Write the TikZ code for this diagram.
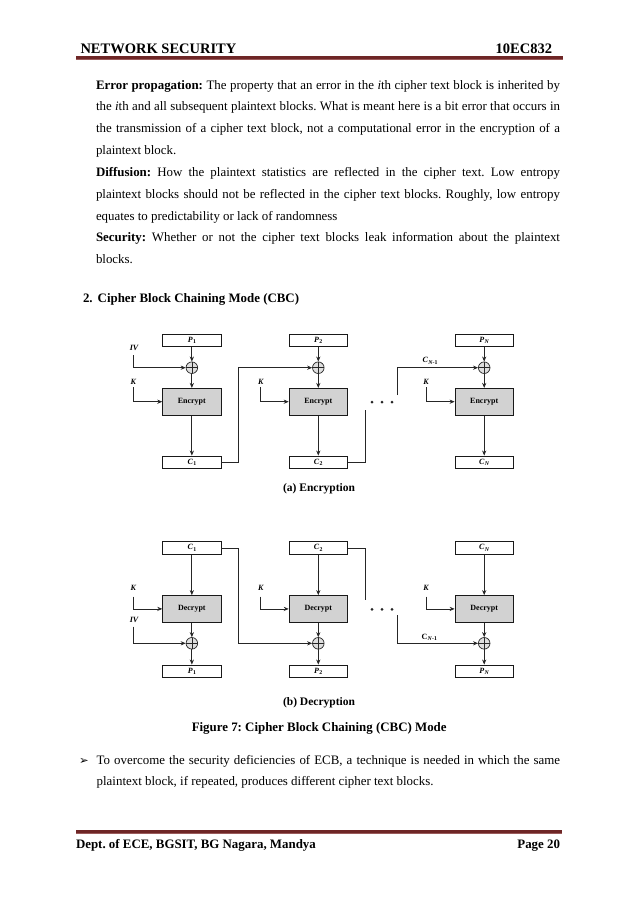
\documentclass[tikz,border=0pt]{standalone}
\usepackage{fontspec}
\setmainfont{Liberation Serif}
\newfontfamily\symfont{DejaVu Sans}
\usetikzlibrary{arrows.meta}
\frenchspacing
\newcommand\bodyfont{\fontsize{12.9}{15}\selectfont}
\newcommand\diagfont{\fontsize{8}{9}\selectfont\bfseries}
\newcommand\vsub[2]{\textit{#1}\kern0.3pt\raisebox{-1.4pt}{\fontsize{5.8}{6}\selectfont #2}}
\definecolor{maroon}{HTML}{6E2626}
\definecolor{maroonlt}{HTML}{9A5A5A}
\definecolor{boxgray}{HTML}{D2D2D2}
\begin{document}
\frenchspacing
\begin{tikzpicture}[x=1pt,y=-1pt,
  txt/.style={inner sep=0pt, outer sep=0pt, font=\bodyfont},
  box/.style={draw=black!90, line width=0.9pt, minimum width=58.3pt, minimum height=12.4pt, inner sep=0pt, font=\diagfont},
  cbox/.style={box, fill=boxgray, minimum height=26.7pt},
  xor/.style={circle, draw=black!85, fill=boxgray!70, line width=0.7pt, minimum size=11.6pt, inner sep=0pt,
    path picture={\draw[line width=0.6pt] (path picture bounding box.north) -- (path picture bounding box.south)
      (path picture bounding box.west) -- (path picture bounding box.east);}},
  conn/.style={draw=black!85, line width=0.75pt, -{Stealth[length=5pt,width=4.2pt]}},
  plain/.style={draw=black!85, line width=0.75pt},
  lab/.style={inner sep=0pt, font=\diagfont},
  dotmark/.style={fill=black!85}
]
\useasboundingbox (0,0) rectangle (638,903);
\fill[white] (0,0) rectangle (638,903);

% header
\node[txt, anchor=base west, font=\fontsize{14.5}{16}\selectfont\bfseries] (hl) at (80.5,53) {NETWORK SECURITY};
\node[txt, anchor=base east, font=\fontsize{14.5}{16}\selectfont\bfseries] (hr) at (552,53) {10EC832};
\draw[maroon, line width=2.2pt] (76,57.5) -- (563,57.5);
\draw[maroonlt, line width=0.9pt] (76,59.5) -- (563,59.5);

% body text
\node[txt, anchor=base west] (l1) at (96,89) {\makebox[464pt][s]{\textbf{Error propagation:} The property that an error in the \textit{i}th cipher text block is inherited by}};
\node[txt, anchor=base west] (l2) at (96,110.85) {\makebox[464pt][s]{the \textit{i}th and all subsequent plaintext blocks. What is meant here is a bit error that occurs in}};
\node[txt, anchor=base west] (l3) at (96,132.7) {\makebox[464pt][s]{the transmission of a cipher text block, not a computational error in the encryption of a}};
\node[txt, anchor=base west] (l4) at (96,154.55) {plaintext block.};
\node[txt, anchor=base west] (l5) at (96,176.4) {\makebox[464pt][s]{\textbf{Diffusion:} How the plaintext statistics are reflected in the cipher text. Low entropy}};
\node[txt, anchor=base west] (l6) at (96,198.25) {\makebox[464pt][s]{plaintext blocks should not be reflected in the cipher text blocks. Roughly, low entropy}};
\node[txt, anchor=base west] (l7) at (96,220.1) {equates to predictability or lack of randomness};
\node[txt, anchor=base west] (l8) at (96,241.95) {\makebox[464pt][s]{\textbf{Security:} Whether or not the cipher text blocks leak information about the plaintext}};
\node[txt, anchor=base west] (l9) at (96,263.8) {blocks.};
\node[txt, anchor=base west, font=\bodyfont\bfseries] (s2n) at (83,302) {2.};
\node[txt, anchor=base west, font=\bodyfont\bfseries] (s2t) at (97.7,302) {Cipher Block Chaining Mode (CBC)};

% ---------- encryption ----------
\node[box] (p1) at (191.85,340.5) {\vsub{P}{1}};
\node[xor] (x1) at (191.85,367.7) {};
\node[cbox] (e1) at (191.85,401.7) {Encrypt};
\node[box] (c1) at (191.85,462.2) {\vsub{C}{1}};

\node[box] (p2) at (318.3,340.5) {\vsub{P}{2}};
\node[xor] (x2) at (318.3,367.7) {};
\node[cbox] (e2) at (318.3,401.7) {Encrypt};
\node[box] (c2) at (318.3,462.2) {\vsub{C}{2}};

\node[box] (pN) at (484.2,340.5) {\vsub{P}{\textit{N}}};
\node[xor] (xN) at (484.2,367.7) {};
\node[cbox] (eN) at (484.2,401.7) {Encrypt};
\node[box] (cN) at (484.2,462.2) {\vsub{C}{\textit{N}}};

\foreach \i in {1,2,N}{
  \draw[conn] (p\i) -- (x\i);
  \draw[conn] (x\i) -- (e\i);
  \draw[conn] (e\i) -- (c\i);
}
\node[lab, font=\diagfont\itshape] (ivE) at (134,348.3) {IV};
\coordinate (ivEs) at (133.3,355);
\draw[conn] (ivEs) |- (x1);
\node[lab, font=\diagfont\itshape] (kE1) at (133.3,381.7) {K};
\coordinate (kE1s) at (133.3,387.3);
\draw[conn] (kE1s) |- (e1);
\node[lab, font=\diagfont\itshape] (kE2) at (260.7,381.7) {K};
\coordinate (kE2s) at (260.7,387.3);
\draw[conn] (kE2s) |- (e2);
\node[lab, font=\diagfont\itshape] (kEN) at (426,381.7) {K};
\coordinate (kENs) at (426,387.3);
\draw[conn] (kENs) |- (eN);

\coordinate (jE1) at (238.3,462.2);
\draw[conn] (c1.east) -- (jE1) |- (x2);
\coordinate (c2end) at (365,410);
\draw[plain] (c2.east) -| (c2end);
\fill[dotmark] (372,402) circle (1.5) (382,402) circle (1.5) (392,402) circle (1.5);
\coordinate (cn1E) at (397.7,395);
\draw[conn] (cn1E) |- (xN);
\node[lab] (cn1El) at (430,361) {\vsub{C}{\textit{N}-1}};

\node[txt, font=\fontsize{11.5}{13}\selectfont\bfseries] (capA) at (319,488.3) {(a) Encryption};

% ---------- decryption ----------
\node[box] (dc1) at (191.85,547.9) {\vsub{C}{1}};
\node[cbox] (d1) at (191.85,608.9) {Decrypt};
\node[xor] (dx1) at (191.85,643.3) {};
\node[box] (dp1) at (191.85,671.2) {\vsub{P}{1}};

\node[box] (dc2) at (318.3,547.9) {\vsub{C}{2}};
\node[cbox] (d2) at (318.3,608.9) {Decrypt};
\node[xor] (dx2) at (318.3,643.3) {};
\node[box] (dp2) at (318.3,671.2) {\vsub{P}{2}};

\node[box] (dcN) at (484.2,547.9) {\vsub{C}{\textit{N}}};
\node[cbox] (dN) at (484.2,608.9) {Decrypt};
\node[xor] (dxN) at (484.2,643.3) {};
\node[box] (dpN) at (484.2,671.2) {\vsub{P}{\textit{N}}};

\foreach \i in {1,2,N}{
  \draw[conn] (dc\i) -- (d\i);
  \draw[conn] (d\i) -- (dx\i);
  \draw[conn] (dx\i) -- (dp\i);
}
\node[lab, font=\diagfont\itshape] (kD1) at (133.3,588.3) {K};
\coordinate (kD1s) at (133.3,596.7);
\draw[conn] (kD1s) |- (d1);
\node[lab, font=\diagfont\itshape] (kD2) at (260.7,588.3) {K};
\coordinate (kD2s) at (260.7,596.7);
\draw[conn] (kD2s) |- (d2);
\node[lab, font=\diagfont\itshape] (kDN) at (426,588.3) {K};
\coordinate (kDNs) at (426,596.7);
\draw[conn] (kDNs) |- (dN);
\node[lab, font=\diagfont\itshape] (ivD) at (134,620) {IV};
\coordinate (ivDs) at (133.3,626.7);
\draw[conn] (ivDs) |- (dx1);

\coordinate (jD1) at (238.3,547.9);
\draw[conn] (dc1.east) -- (jD1) |- (dx2);
\coordinate (dc2end) at (365,600);
\draw[plain] (dc2.east) -| (dc2end);
\fill[dotmark] (372,609.3) circle (1.5) (382,609.3) circle (1.5) (392,609.3) circle (1.5);
\coordinate (cn1D) at (397.7,615);
\draw[conn] (cn1D) |- (dxN);
\node[lab] (cn1Dl) at (429.3,637.5) {C\kern0.3pt\raisebox{-1.4pt}{\fontsize{5.8}{6}\selectfont\textit{N}-1}};

\node[txt, font=\fontsize{11.5}{13}\selectfont\bfseries] (capB) at (319,703) {(b) Decryption};

% caption and bullet
\node[txt, anchor=base, font=\bodyfont\bfseries] (fig) at (319.2,731) {Figure 7: Cipher Block Chaining (CBC) Mode};
\node[txt, anchor=base west, font=\symfont\fontsize{11.5}{12}\selectfont] (bul) at (79,764) {➢};
\node[txt, anchor=base west] (b1) at (96.7,764) {\makebox[463.3pt][s]{To overcome the security deficiencies of ECB, a technique is needed in which the same}};
\node[txt, anchor=base west] (b2) at (96.7,785.5) {plaintext block, if repeated, produces different cipher text blocks.};

% footer
\draw[maroon, line width=2.2pt] (76,831.5) -- (562,831.5);
\draw[maroonlt, line width=0.9pt] (76,833.6) -- (562,833.6);
\node[txt, anchor=base west, font=\bodyfont\bfseries] (fl) at (76,848) {Dept. of ECE, BGSIT, BG Nagara, Mandya};
\node[txt, anchor=base east, font=\bodyfont\bfseries] (fr) at (560,848) {Page 20};
\end{tikzpicture}
\end{document}
